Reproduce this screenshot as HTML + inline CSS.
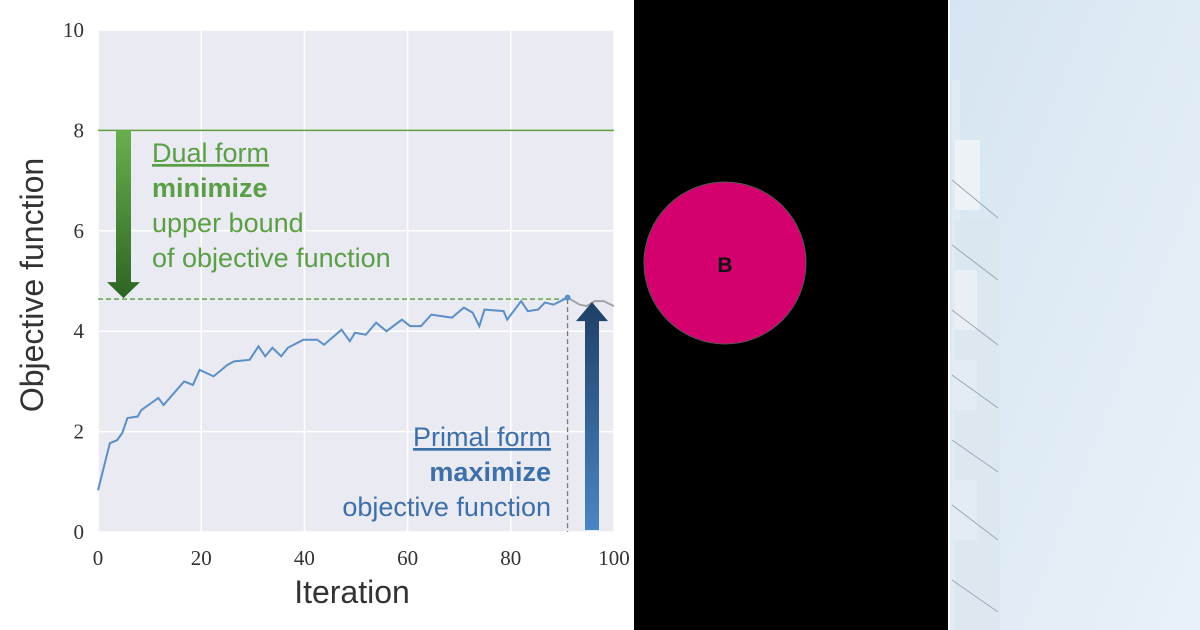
<!DOCTYPE html>
<html><head><meta charset="utf-8"><style>
body{margin:0;width:1200px;height:630px;overflow:hidden;background:#fff;position:relative;font-family:"Liberation Sans",sans-serif}
#chart{position:absolute;left:0;top:0}
</style></head><body>
<svg id="chart" width="1200" height="630" viewBox="0 0 1200 630">
<defs>
<linearGradient id="gg" x1="0" y1="0" x2="0" y2="1"><stop offset="0" stop-color="#67b04e"/><stop offset="1" stop-color="#2e6424"/></linearGradient>
<linearGradient id="bg" x1="0" y1="0" x2="0" y2="1"><stop offset="0" stop-color="#1f3f66"/><stop offset="1" stop-color="#4a86c4"/></linearGradient>
<linearGradient id="sky" x1="0" y1="0" x2="1" y2="1"><stop offset="0" stop-color="#d6e5f2"/><stop offset="1" stop-color="#e9f1f8"/></linearGradient>
</defs>
<rect x="0" y="0" width="634" height="630" fill="#fff"/>
<rect x="98" y="30" width="516" height="502" fill="#eaeaf2"/>
<g id="grid"></g>
<g id="ticks" font-family="Liberation Serif, serif" font-size="21" fill="#333"></g>
<text transform="translate(43,285) rotate(-90)" text-anchor="middle" font-size="32" fill="#333">Objective function</text>
<text x="352" y="603" text-anchor="middle" font-size="32" fill="#333">Iteration</text>
<g id="marks"></g>
<g fill="#5a9e45" font-size="27">
<text x="152" y="162" text-decoration="underline">Dual form</text>
<text x="152" y="197" font-weight="bold">minimize</text>
<text x="152" y="232">upper bound</text>
<text x="152" y="267">of objective function</text>
</g>
<g fill="#3d6fa8" font-size="27" text-anchor="end">
<text x="551" y="446" text-decoration="underline">Primal form</text>
<text x="551" y="481" font-weight="bold">maximize</text>
<text x="551" y="516">objective function</text>
</g>
<rect x="634" y="0" width="314" height="630" fill="#000"/>
<circle cx="725" cy="263" r="81" fill="#d4006e" stroke="#555" stroke-width="1"/>
<text x="725" y="272" text-anchor="middle" font-size="21" font-weight="bold" fill="#111">B</text>
<rect x="950" y="0" width="250" height="630" fill="url(#sky)"/>
<g opacity="0.8">
<rect x="952" y="80" width="8" height="550" fill="#e4ecf3"/>
<rect x="955" y="140" width="25" height="70" fill="#f2f5f8"/>
<rect x="955" y="220" width="45" height="410" fill="#dce7f0"/>
<rect x="955" y="270" width="22" height="60" fill="#edf2f6"/>
<rect x="955" y="360" width="22" height="50" fill="#e6edf3"/>
<rect x="955" y="480" width="22" height="60" fill="#e6edf3"/>
<g stroke="#8a97a3" stroke-width="1">
<line x1="952" y1="180" x2="998" y2="218"/><line x1="952" y1="245" x2="998" y2="280"/>
<line x1="952" y1="310" x2="998" y2="345"/><line x1="952" y1="375" x2="998" y2="408"/>
<line x1="952" y1="440" x2="998" y2="472"/><line x1="952" y1="505" x2="998" y2="540"/>
<line x1="952" y1="580" x2="998" y2="612"/>
</g></g>
<rect x="948" y="0" width="2" height="630" fill="#fff"/>
</svg>
<script>
const xTicks=[0,20,40,60,80,100];
const yTicks=[0,2,4,6,8,10];
const iters=[0,2.3,3.7,4.7,5.7,7.7,8.4,11.7,12.7,15,16.7,18.4,19.7,22.4,25.1,26.4,29.4,31.1,32.4,33.8,35.5,36.8,39.8,42.5,43.8,47.2,48.8,49.8,51.9,53.9,55.9,58.9,60.5,62.6,64.6,68.6,70.9,72.6,73.9,74.9,78.6,79.3,82,83.3,85.3,86.6,88.3,91];
const values=[0.83,1.77,1.83,1.97,2.27,2.30,2.43,2.67,2.53,2.80,3.0,2.93,3.23,3.10,3.33,3.40,3.43,3.70,3.50,3.67,3.50,3.67,3.83,3.83,3.73,4.03,3.80,3.97,3.93,4.17,4.0,4.23,4.10,4.10,4.33,4.27,4.47,4.37,4.10,4.43,4.40,4.23,4.60,4.40,4.43,4.57,4.53,4.67];
const tailIters=[91,93.3,94.7,96.3,98,100];
const tailValues=[4.67,4.53,4.5,4.6,4.6,4.5];
const upperBound=8;
const dualOptimum=4.64;
const stopIter=91;
const X=v=>98+v*5.16, Y=v=>532-v*50.2;
const NS='http://www.w3.org/2000/svg';
function mk(tag,attrs,parent){const e=document.createElementNS(NS,tag);for(const k in attrs)e.setAttribute(k,attrs[k]);parent.appendChild(e);return e;}
const grid=document.getElementById('grid'),ticks=document.getElementById('ticks'),marks=document.getElementById('marks');
xTicks.forEach(t=>{
 const l=mk('line',{x1:X(t),x2:X(t),y1:30,y2:532,stroke:'#fff','stroke-width':1.5},grid);
 
 
 const tx=mk('text',{x:X(t),y:565,'text-anchor':'middle'},ticks);tx.textContent=t;
 
 
});
yTicks.forEach(t=>{
 const l=mk('line',{x1:98,x2:614,y1:Y(t),y2:Y(t),stroke:'#fff','stroke-width':1.5},grid);
 
 
 const tx=mk('text',{x:84,y:Y(t)+7,'text-anchor':'end'},ticks);tx.textContent=t;
 
 
});
let e;
e=mk('line',{x1:98,x2:614,y1:Y(upperBound),y2:Y(upperBound),stroke:'#5aa040','stroke-width':1.5},marks);


e=mk('line',{x1:98,x2:X(stopIter)+3,y1:Y(dualOptimum),y2:Y(dualOptimum),stroke:'#5aa040','stroke-width':1.3,'stroke-dasharray':'5,3'},marks);


e=mk('line',{x1:X(stopIter),x2:X(stopIter),y1:Y(dualOptimum),y2:532,stroke:'#777','stroke-width':1.3,'stroke-dasharray':'5,3'},marks);


e=mk('polyline',{points:tailIters.map((v,i)=>X(v)+','+Y(tailValues[i])).join(' '),fill:'none',stroke:'#a0a4aa','stroke-width':2},marks);


e=mk('polyline',{points:iters.map((v,i)=>X(v)+','+Y(values[i])).join(' '),fill:'none',stroke:'#5b8fc7','stroke-width':2},marks);


e=mk('circle',{cx:X(stopIter),cy:Y(values[values.length-1]),r:3,fill:'#5b8fc7'},marks);


const gy1=Y(upperBound),gy2=Y(dualOptimum);
e=mk('path',{d:`M116,${gy1} H131 V${gy2-17} H140 L123.5,${gy2-1} L107,${gy2-17} H116 Z`,fill:'url(#gg)'},marks);


e=mk('path',{d:`M585,530 V${gy2+22} H576 L592,${gy2+3} L608,${gy2+22} H599 V530 Z`,fill:'url(#bg)'},marks);


</script>
</body></html>
